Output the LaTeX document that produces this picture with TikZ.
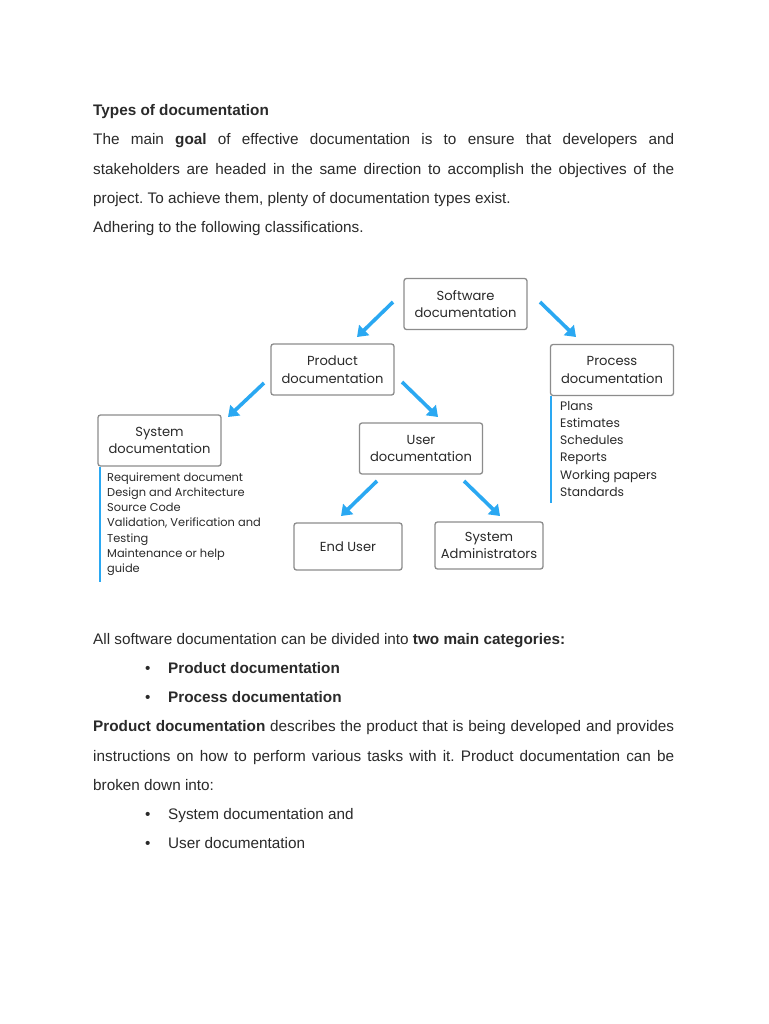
\documentclass[tikz,border=0pt]{standalone}
\usepackage{fontspec}
\setmainfont{Liberation Sans}
\newfontfamily\boxfont{Poppins}
\usetikzlibrary{arrows.meta}
\frenchspacing
\definecolor{arrowblue}{HTML}{2AA8F2}
\definecolor{boxgray}{HTML}{8C8C8C}
\definecolor{inkgray}{HTML}{2A2A2A}
\tikzset{
  doc/.style={draw=boxgray,line width=1.3pt,rounded corners=2.5pt,minimum width=123pt,
    minimum height=51pt,align=center,text=inkgray,font=\boxfont\fontsize{13.1}{17.5}\selectfont},
  leaf/.style={doc,minimum width=108pt,minimum height=47pt},
  flow/.style={arrowblue,line width=3.6pt,-{Triangle[length=10pt,width=14pt]}},
  listbar/.style={arrowblue,line width=2pt},
  item/.style={anchor=base west,inner sep=0pt,text=inkgray,font=\boxfont\fontsize{11.4}{13}\selectfont},
  para/.style={anchor=base west,inner sep=0pt,text=inkgray,font=\fontsize{15.3}{18}\selectfont},
}
\begin{document}
\begin{tikzpicture}[x=1pt,y=-1pt]
  \useasboundingbox[fill=white] (0,0) rectangle (768,1024);

  % text above the chart
  \node[para] (title) at (93,116) {\textbf{Types of documentation}};
  \node[para] (l1) at (93,145) {\makebox[581pt][s]{The main \textbf{goal} of effective documentation is to ensure that developers and}};
  \node[para] (l2) at (93,175) {\makebox[581pt][s]{stakeholders are headed in the same direction to accomplish the objectives of the}};
  \node[para] (l3) at (93,204) {project. To achieve them, plenty of documentation types exist.};
  \node[para] (l4) at (93,233) {Adhering to the following classifications.};

  % chart boxes
  \node[doc] (soft) at (465.5,304) {Software\\documentation};
  \node[doc] (prod) at (332.5,369.5) {Product\\documentation};
  \node[doc] (proc) at (612,370) {Process\\documentation};
  \node[doc] (sys) at (159.5,440.5) {System\\documentation};
  \node[doc] (user) at (421,448.5) {User\\documentation};
  \node[leaf] (end) at (348,546.5) {End User};
  \node[leaf] (admin) at (489,545.5) {System\\Administrators};

  % arrow ends
  \coordinate (a1) at (393,302);  \coordinate (b1) at (357,337);
  \coordinate (a2) at (540,302);  \coordinate (b2) at (576,337);
  \coordinate (a3) at (264,383);  \coordinate (b3) at (228,417);
  \coordinate (a4) at (402,382);  \coordinate (b4) at (438,417);
  \coordinate (a5) at (377,481);  \coordinate (b5) at (341,516);
  \coordinate (a6) at (464,481);  \coordinate (b6) at (500,516);
  \foreach \i in {1,...,6}
    \draw[flow] (a\i) -- (b\i);

  % lists under process and system
  \draw[listbar] (proc.south west) ++(1,0) coordinate (pbar) -- (pbar |- 0,503);
  \foreach \t [count=\i] in {Plans,Estimates,Schedules,Reports,Working papers,Standards}
    \node[item,font=\boxfont\fontsize{12.3}{14}\selectfont] (p\i) at (560,{393+17.2*\i}) {\t};
  \draw[listbar] (sys.south west) ++(3,0) coordinate (sbar) -- (sbar |- 0,582);
  \foreach \t [count=\i] in {Requirement document,Design and Architecture,Source Code,
      {Validation, Verification and},Testing,Maintenance or help,guide}
    \node[item] (s\i) at (107,{466+15.2*\i}) {\t};

  % text below the chart
  \node[para] (m1) at (93,644) {All software documentation can be divided into \textbf{two main categories:}};
  \node[para] (d1) at (145,673) {\textbullet};
  \node[para] (m2) at (168,673) {\textbf{Product documentation}};
  \node[para] (d2) at (145,702) {\textbullet};
  \node[para] (m3) at (168,702) {\textbf{Process documentation}};
  \node[para] (m4) at (93,731) {\makebox[581pt][s]{\textbf{Product documentation} describes the product that is being developed and provides}};
  \node[para] (m5) at (93,761) {\makebox[581pt][s]{instructions on how to perform various tasks with it. Product documentation can be}};
  \node[para] (m6) at (93,790) {broken down into:};
  \node[para] (d3) at (145,819) {\textbullet};
  \node[para] (m7) at (168,819) {System documentation and};
  \node[para] (d4) at (145,848) {\textbullet};
  \node[para] (m8) at (168,848) {User documentation};
\end{tikzpicture}
\end{document}
